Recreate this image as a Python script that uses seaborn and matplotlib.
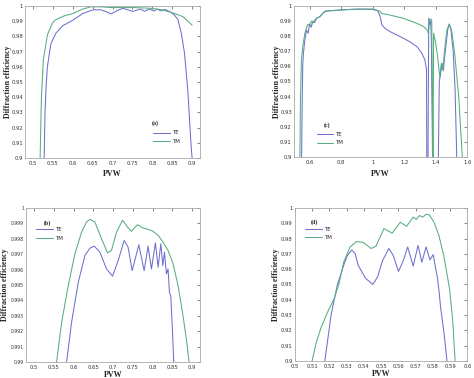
import numpy as np
import pandas as pd
import matplotlib
matplotlib.use("Agg")
import matplotlib.pyplot as plt
import seaborn as sns
from matplotlib.ticker import FuncFormatter

# ---- panel (a) ----
a_te_x = [0.5278, 0.530, 0.533, 0.536, 0.5446, 0.557, 0.574, 0.599, 0.6246, 0.650, 0.671,
          0.685, 0.696, 0.710, 0.7256, 0.739, 0.751, 0.770, 0.780, 0.793, 0.804, 0.812,
          0.822, 0.831, 0.843, 0.856, 0.8645, 0.873, 0.881, 0.8897, 0.8965, 0.900]
a_te_y = [0.90, 0.93, 0.948, 0.96, 0.975, 0.982, 0.987, 0.9905, 0.995, 0.9975, 0.9975,
          0.9962, 0.9948, 0.9968, 0.9985, 0.9975, 0.9965, 0.998, 0.9966, 0.998, 0.9967, 0.998,
          0.9968, 0.9978, 0.9965, 0.994, 0.991, 0.982, 0.969, 0.943, 0.912, 0.90]
a_tm_x = [0.5177, 0.521, 0.526, 0.536, 0.5488, 0.557, 0.578, 0.599, 0.6246, 0.6456, 0.671,
          0.696, 0.7214, 0.755, 0.797, 0.822, 0.852, 0.877, 0.900]
a_tm_y = [0.90, 0.94, 0.965, 0.981, 0.989, 0.991, 0.9935, 0.995, 0.998, 0.9995, 0.9995,
          0.999, 0.999, 0.999, 0.9985, 0.9976, 0.9955, 0.993, 0.9875]

# ---- panel (b) ----
b_te_x = [0.5825, 0.595, 0.612, 0.6288, 0.6414, 0.6524, 0.6667, 0.6835, 0.6987, 0.713,
          0.7281, 0.738, 0.7483, 0.7652, 0.7786, 0.7887, 0.7971, 0.8072, 0.814, 0.8207,
          0.8258, 0.830, 0.835, 0.8392, 0.8426, 0.846, 0.8493, 0.8535]
b_te_y = [0.990, 0.99257, 0.99517, 0.99691, 0.99739, 0.99752, 0.99713, 0.99604, 0.99557, 0.99659,
          0.99789, 0.99746, 0.99593, 0.99761, 0.99593, 0.99752, 0.99604, 0.99774, 0.99615, 0.99767,
          0.99626, 0.99713, 0.99572, 0.99604, 0.99452, 0.9943, 0.99257, 0.990]
b_tm_x = [0.5572, 0.5699, 0.5867, 0.6035, 0.6204, 0.633, 0.6414, 0.654, 0.6709, 0.686,
          0.696, 0.7088, 0.724, 0.7365, 0.7466, 0.7618, 0.776, 0.7887, 0.8013, 0.814,
          0.8266, 0.8392, 0.8519, 0.8645, 0.877, 0.8855, 0.8923]
b_tm_y = [0.990, 0.99257, 0.99496, 0.99702, 0.99843, 0.99909, 0.99926, 0.99909, 0.998, 0.99709,
          0.99724, 0.99843, 0.9992, 0.99876, 0.99848, 0.99891, 0.9987, 0.99861, 0.99848, 0.99822,
          0.99778, 0.99724, 0.99637, 0.99496, 0.993, 0.99148, 0.990]

# ---- panel (c) ----
c_te_x = [0.546, 0.549, 0.552, 0.556, 0.560, 0.570, 0.580, 0.590, 0.600, 0.610, 0.620, 0.630,
          0.645, 0.665, 0.685, 0.700, 0.750, 0.800, 0.900, 1.000, 1.030, 1.045, 1.058, 1.080,
          1.110, 1.150, 1.196, 1.240, 1.281, 1.310, 1.330, 1.341, 1.343, 1.350, 1.355, 1.362,
          1.368, 1.372, 1.380, 1.415, 1.422, 1.430, 1.440, 1.447, 1.460, 1.475, 1.485, 1.495,
          1.510, 1.522, 1.535]
c_te_y = [0.89, 0.90, 0.93, 0.96, 0.968, 0.978, 0.984, 0.982, 0.988, 0.986, 0.990, 0.989,
          0.992, 0.993, 0.9955, 0.9967, 0.997, 0.9975, 0.998, 0.998, 0.997, 0.994, 0.9875, 0.985,
          0.983, 0.981, 0.9786, 0.976, 0.973, 0.969, 0.9645, 0.958, 0.89, 0.89, 0.992, 0.988,
          0.990, 0.975, 0.89, 0.89, 0.95, 0.955, 0.962, 0.957, 0.97, 0.984, 0.988, 0.985,
          0.97, 0.945, 0.89]
c_tm_x = [0.536, 0.538, 0.542, 0.548, 0.559, 0.570, 0.581, 0.590, 0.600, 0.610, 0.623, 0.635,
          0.645, 0.666, 0.687, 0.708, 0.772, 0.878, 0.984, 1.037, 1.050, 1.058, 1.111, 1.196,
          1.281, 1.324, 1.345, 1.352, 1.362, 1.368, 1.374, 1.378, 1.382, 1.386, 1.400, 1.413,
          1.425, 1.435, 1.445, 1.455, 1.470, 1.485, 1.500, 1.520, 1.545, 1.568, 1.575]
c_tm_y = [0.89, 0.90, 0.94, 0.965, 0.975, 0.982, 0.986, 0.988, 0.987, 0.990, 0.989, 0.991,
          0.992, 0.993, 0.9956, 0.9967, 0.9972, 0.9978, 0.9978, 0.997, 0.996, 0.995, 0.994, 0.9918,
          0.9885, 0.9863, 0.984, 0.982, 0.991, 0.9915, 0.990, 0.94, 0.89, 0.982, 0.975, 0.965,
          0.953, 0.962, 0.958, 0.970, 0.984, 0.988, 0.984, 0.968, 0.94, 0.90, 0.89]

# ---- panel (d) ----
d_te_x = [0.5174, 0.5210, 0.5246, 0.5283, 0.5305, 0.533, 0.535, 0.5367, 0.541, 0.5452, 0.548,
          0.5508, 0.5545, 0.557, 0.5601, 0.563, 0.5654, 0.5686, 0.5714, 0.5736, 0.5761, 0.5783,
          0.5802, 0.5817, 0.5826, 0.5835, 0.5845, 0.5865, 0.5882]
d_te_y = [0.900, 0.930, 0.9495, 0.9625, 0.969, 0.9725, 0.970, 0.9625, 0.954, 0.950, 0.955,
          0.9655, 0.9735, 0.969, 0.9585, 0.966, 0.9745, 0.962, 0.9755, 0.9645, 0.9745, 0.966,
          0.9695, 0.960, 0.955, 0.9465, 0.935, 0.918, 0.900]
d_tm_x = [0.510, 0.5124, 0.5152, 0.519, 0.5227, 0.5255, 0.5283, 0.532, 0.5358, 0.5396, 0.5442,
          0.547, 0.5517, 0.5564, 0.5611, 0.5648, 0.5686, 0.5704, 0.5723, 0.5742, 0.5761, 0.5779,
          0.5807, 0.5835, 0.5863, 0.5897, 0.5916, 0.5929]
d_tm_y = [0.900, 0.912, 0.9218, 0.932, 0.9405, 0.950, 0.9645, 0.9745, 0.978, 0.9775, 0.9735,
          0.975, 0.9865, 0.9835, 0.9906, 0.988, 0.994, 0.9925, 0.995, 0.994, 0.9958, 0.9955,
          0.9906, 0.982, 0.969, 0.947, 0.925, 0.900]

TE_COLOR = "#6f6fd0"
TM_COLOR = "#55ad80"

sns.set_theme(style="white")
plt.rcParams["font.family"] = ["DejaVu Sans"]
plt.rcParams["axes.edgecolor"] = "#a8a8a8"
plt.rcParams["axes.linewidth"] = 0.6


def fmt(v, pos):
    return f"{round(v, 4):g}"


def panel(ax, te_x, te_y, tm_x, tm_y, xlim, xticks, ylim, yticks, tag, tag_pos, leg_pos,
          ylab_x, xlab_y, tick_size=3.8):
    df = pd.concat([
        pd.DataFrame({"PVW": te_x, "eff": te_y, "mode": "TE"}),
        pd.DataFrame({"PVW": tm_x, "eff": tm_y, "mode": "TM"}),
    ], ignore_index=True)
    sns.lineplot(data=df, x="PVW", y="eff", hue="mode", palette={"TE": TE_COLOR, "TM": TM_COLOR},
                 sort=False, estimator=None, linewidth=0.75, ax=ax)
    ax.set_xlim(*xlim)
    ax.set_ylim(*ylim)
    ax.set_xticks(xticks)
    ax.set_yticks(yticks)
    ax.xaxis.set_major_formatter(FuncFormatter(fmt))
    ax.yaxis.set_major_formatter(FuncFormatter(fmt))
    ax.tick_params(direction="in", length=2, width=0.5, labelsize=3.8, colors="#555555",
                   top=True, right=True, pad=2)
    ax.tick_params(axis="y", labelsize=tick_size, pad=1.5)
    ax.tick_params(labelcolor="#333333")
    ax.set_xlabel("PVW", family="Liberation Serif", fontweight="bold", fontsize=5.8)
    ax.set_ylabel("Diffraction efficiency", family="Liberation Serif", fontweight="bold",
                  fontsize=5.8)
    ax.xaxis.set_label_coords(0.5, xlab_y)
    ax.yaxis.set_label_coords(ylab_x, 0.5)
    handles, labels = ax.get_legend_handles_labels()
    ax.legend(handles, labels, loc="upper left", bbox_to_anchor=leg_pos, frameon=False,
              fontsize=4, handlelength=3.0, handletextpad=0.4, labelspacing=0.6,
              borderpad=0, borderaxespad=0)
    ax.text(tag_pos[0], tag_pos[1], tag, transform=ax.transAxes, ha="center", va="center",
            fontsize=4.2, fontweight="bold", family="Liberation Serif")


fig = plt.figure(figsize=(4.74, 3.78), dpi=100)
ax_a = fig.add_axes([0.053, 0.582, 0.369, 0.402])
ax_c = fig.add_axes([0.620, 0.585, 0.366, 0.399])
ax_b = fig.add_axes([0.055, 0.042, 0.367, 0.408])
ax_d = fig.add_axes([0.622, 0.045, 0.364, 0.405])

ticks_a = np.round(np.arange(0.5, 0.901, 0.05), 2)
panel(ax_a, a_te_x, a_te_y, a_tm_x, a_tm_y, (0.48, 0.92), ticks_a, (0.9, 1.0),
      np.round(np.arange(0.9, 1.0001, 0.01), 2), "(a)", (0.743, 0.228), (0.731, 0.181),
      -0.074, -0.079)
panel(ax_b, b_te_x, b_te_y, b_tm_x, b_tm_y, (0.48, 0.92), ticks_a, (0.99, 1.0),
      np.round(np.arange(0.99, 1.00001, 0.001), 3), "(b)", (0.124, 0.901), (0.057, 0.875),
      -0.098, -0.058, tick_size=3.3)
panel(ax_c, c_te_x, c_te_y, c_tm_x, c_tm_y, (0.5, 1.6), np.round(np.arange(0.6, 1.601, 0.2), 1),
      (0.9, 1.0), np.round(np.arange(0.9, 1.0001, 0.01), 2), "(c)", (0.189, 0.212),
      (0.131, 0.164), -0.075, -0.086)
panel(ax_d, d_te_x, d_te_y, d_tm_x, d_tm_y, (0.5, 0.6), np.round(np.arange(0.5, 0.6001, 0.01), 2),
      (0.9, 1.0), np.round(np.arange(0.9, 1.0001, 0.01), 2), "(d)", (0.116, 0.904),
      (0.058, 0.875), -0.087, -0.058)

fig.savefig("out.png", dpi=100, facecolor="white")
